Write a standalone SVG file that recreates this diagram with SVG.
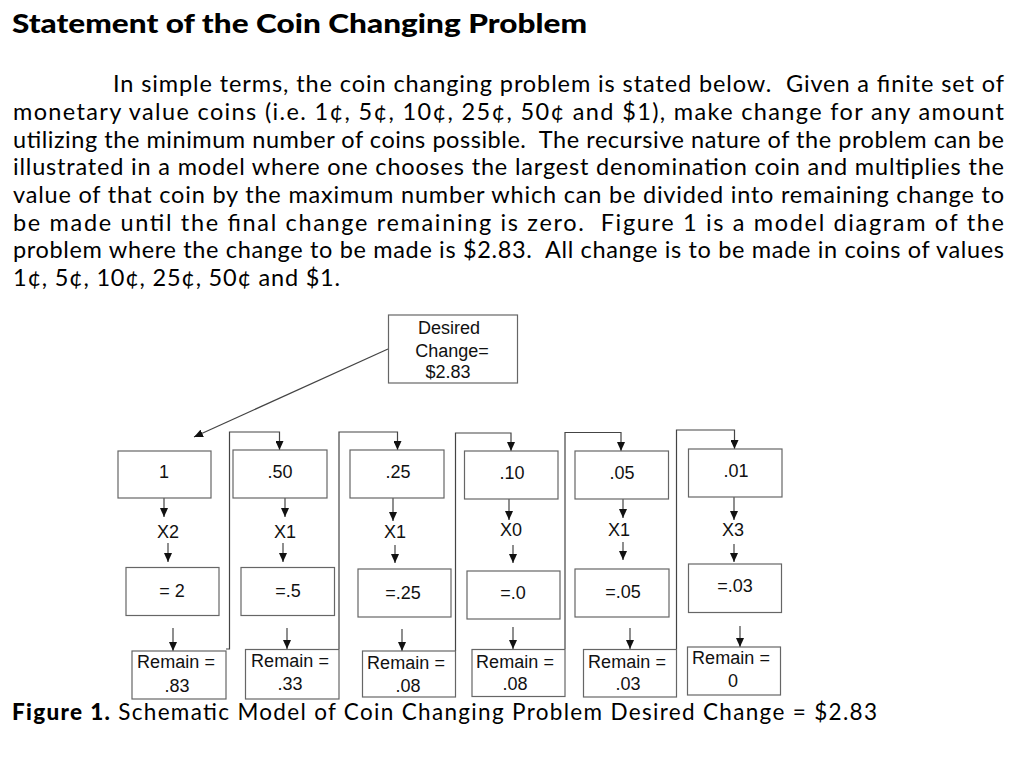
<svg xmlns="http://www.w3.org/2000/svg" width="1024" height="766" viewBox="0 0 1024 766">
<style>
.body{font-family:Lato,"Noto Sans","DejaVu Sans",sans-serif;font-size:23.5px;fill:#000;white-space:pre}
.title{font-family:Lato,"Noto Sans","DejaVu Sans",sans-serif;font-size:27px;font-weight:900;fill:#000}
.cap{font-family:Lato,"Noto Sans","DejaVu Sans",sans-serif;font-size:22.5px;fill:#000;white-space:pre}
.cap .b{font-weight:900}
.box{fill:#fff;stroke:#666;stroke-width:1.2}
.lbl{font-family:"Liberation Sans",Arial,sans-serif;font-size:18px;fill:#111;text-anchor:middle}
.con{fill:none;stroke:#444;stroke-width:1.2}
</style>
<defs>
<marker id="ah" markerUnits="userSpaceOnUse" markerWidth="9" markerHeight="8" refX="9" refY="4" orient="auto">
<path d="M0,0 L9,4 L0,8 z" fill="#111"/>
</marker>
</defs>
<rect width="1024" height="766" fill="#fff"/>

<text class="title" x="12" y="33" textLength="575" lengthAdjust="spacingAndGlyphs">Statement of the Coin Changing Problem</text>

<g id="paragraph">
<text class="body" x="113" y="92" textLength="891" lengthAdjust="spacing">In simple terms, the coin changing problem is stated below.  Given a finite set of</text>
<text class="body" x="13" y="120" textLength="991" lengthAdjust="spacing">monetary value coins (i.e. 1¢, 5¢, 10¢, 25¢, 50¢ and $1), make change for any amount</text>
<text class="body" x="13" y="147.5" textLength="991" lengthAdjust="spacing">utilizing the minimum number of coins possible.  The recursive nature of the problem can be</text>
<text class="body" x="13" y="175" textLength="991" lengthAdjust="spacing">illustrated in a model where one chooses the largest denomination coin and multiplies the</text>
<text class="body" x="13" y="203" textLength="991" lengthAdjust="spacing">value of that coin by the maximum number which can be divided into remaining change to</text>
<text class="body" x="13" y="230.5" textLength="991" lengthAdjust="spacing">be made until the final change remaining is zero.  Figure 1 is a model diagram of the</text>
<text class="body" x="13" y="258" textLength="991" lengthAdjust="spacing">problem where the change to be made is $2.83.  All change is to be made in coins of values</text>
<text class="body" x="13" y="286" textLength="327" lengthAdjust="spacing">1¢, 5¢, 10¢, 25¢, 50¢ and $1.</text>
</g>

<g id="connectors">
<line class="con" x1="388" y1="349" x2="194" y2="437" marker-end="url(#ah)"/>
<line class="con" x1="164" y1="498" x2="164" y2="517" marker-end="url(#ah)"/>
<line class="con" x1="285" y1="498" x2="285" y2="517" marker-end="url(#ah)"/>
<line class="con" x1="393" y1="498" x2="393" y2="521" marker-end="url(#ah)"/>
<line class="con" x1="509" y1="499" x2="509" y2="520" marker-end="url(#ah)"/>
<line class="con" x1="623" y1="499" x2="623" y2="518" marker-end="url(#ah)"/>
<line class="con" x1="734" y1="497" x2="734" y2="520" marker-end="url(#ah)"/>
<line class="con" x1="168" y1="543" x2="168" y2="562" marker-end="url(#ah)"/>
<line class="con" x1="283" y1="543" x2="283" y2="562" marker-end="url(#ah)"/>
<line class="con" x1="395" y1="545" x2="395" y2="563" marker-end="url(#ah)"/>
<line class="con" x1="513" y1="545" x2="513" y2="563" marker-end="url(#ah)"/>
<line class="con" x1="623" y1="542" x2="623" y2="560" marker-end="url(#ah)"/>
<line class="con" x1="734" y1="544" x2="734" y2="562" marker-end="url(#ah)"/>
<line class="con" x1="173" y1="628" x2="173" y2="651" marker-end="url(#ah)"/>
<line class="con" x1="287" y1="628" x2="287" y2="649" marker-end="url(#ah)"/>
<line class="con" x1="402" y1="629" x2="402" y2="651" marker-end="url(#ah)"/>
<line class="con" x1="513" y1="627" x2="513" y2="649" marker-end="url(#ah)"/>
<line class="con" x1="630" y1="628" x2="630" y2="649" marker-end="url(#ah)"/>
<line class="con" x1="740" y1="626" x2="740" y2="647" marker-end="url(#ah)"/>
<polyline class="con" points="226,649 229.5,649 229.5,432 279.5,432 279.5,450" marker-end="url(#ah)"/>
<polyline class="con" points="339,649 339,432 397.5,432 397.5,450" marker-end="url(#ah)"/>
<polyline class="con" points="455.5,651 455.5,433 511,433 511,451" marker-end="url(#ah)"/>
<polyline class="con" points="565,649 565,432.5 621,432.5 621,451" marker-end="url(#ah)"/>
<polyline class="con" points="676.5,649 676.5,430 734.5,430 734.5,449" marker-end="url(#ah)"/>
</g>

<g id="desired">
<rect class="box" x="388.5" y="315" width="129" height="68"/>
<text class="lbl" x="449" y="334">Desired</text>
<text class="lbl" x="452" y="356.5">Change=</text>
<text class="lbl" x="448" y="377.5">$2.83</text>
</g>

<g id="coin1"><rect class="box" x="118" y="451" width="93" height="47"/><text class="lbl" x="164" y="478">1</text></g>
<g id="coin50"><rect class="box" x="233" y="450" width="94" height="48"/><text class="lbl" x="280" y="478">.50</text></g>
<g id="coin25"><rect class="box" x="350" y="450" width="94" height="48"/><text class="lbl" x="398" y="478">.25</text></g>
<g id="coin10"><rect class="box" x="464.5" y="451" width="93.5" height="48"/><text class="lbl" x="512" y="479">.10</text></g>
<g id="coin05"><rect class="box" x="575" y="451" width="93.5" height="48"/><text class="lbl" x="622" y="479">.05</text></g>
<g id="coin01"><rect class="box" x="688.5" y="449" width="93.5" height="48"/><text class="lbl" x="736" y="477">.01</text></g>

<g id="mult1"><text class="lbl" x="168" y="538">X2</text></g>
<g id="mult50"><text class="lbl" x="285" y="538">X1</text></g>
<g id="mult25"><text class="lbl" x="395" y="538">X1</text></g>
<g id="mult10"><text class="lbl" x="511" y="536">X0</text></g>
<g id="mult05"><text class="lbl" x="619" y="536">X1</text></g>
<g id="mult01"><text class="lbl" x="733" y="536">X3</text></g>

<g id="prod1"><rect class="box" x="126" y="567.5" width="93" height="48"/><text class="lbl" x="172" y="597">= 2</text></g>
<g id="prod50"><rect class="box" x="241" y="567.5" width="93.5" height="48"/><text class="lbl" x="288" y="597">=.5</text></g>
<g id="prod25"><rect class="box" x="358" y="569" width="93" height="48"/><text class="lbl" x="403" y="599">=.25</text></g>
<g id="prod10"><rect class="box" x="467" y="571" width="93" height="48"/><text class="lbl" x="513" y="599">=.0</text></g>
<g id="prod05"><rect class="box" x="575" y="569" width="94" height="48"/><text class="lbl" x="623" y="598">=.05</text></g>
<g id="prod01"><rect class="box" x="688.5" y="564" width="93" height="48.5"/><text class="lbl" x="735" y="592">=.03</text></g>

<g id="rem1"><rect class="box" x="132" y="651" width="94" height="48"/><text class="lbl" x="176" y="668" textLength="78">Remain =</text><text class="lbl" x="177" y="691.5">.83</text></g>
<g id="rem50"><rect class="box" x="245.5" y="649.5" width="93.5" height="49.5"/><text class="lbl" x="290" y="666.5" textLength="78">Remain =</text><text class="lbl" x="290" y="690">.33</text></g>
<g id="rem25"><rect class="box" x="362.5" y="651" width="93" height="46"/><text class="lbl" x="406" y="668.5" textLength="78">Remain =</text><text class="lbl" x="408" y="691.5">.08</text></g>
<g id="rem10"><rect class="box" x="472" y="649.5" width="93" height="47"/><text class="lbl" x="515" y="667.5" textLength="78">Remain =</text><text class="lbl" x="515" y="689.5">.08</text></g>
<g id="rem05"><rect class="box" x="583.5" y="649.5" width="93" height="47.5"/><text class="lbl" x="627" y="667.5" textLength="78">Remain =</text><text class="lbl" x="628" y="689.5">.03</text></g>
<g id="rem01"><rect class="box" x="687.5" y="647" width="93" height="48"/><text class="lbl" x="731" y="663.5" textLength="78">Remain =</text><text class="lbl" x="733" y="687">0</text></g>

<text class="cap" x="12" y="720" textLength="865" lengthAdjust="spacing"><tspan class="b">Figure 1.</tspan> Schematic Model of Coin Changing Problem Desired Change = $2.83</text>
</svg>
